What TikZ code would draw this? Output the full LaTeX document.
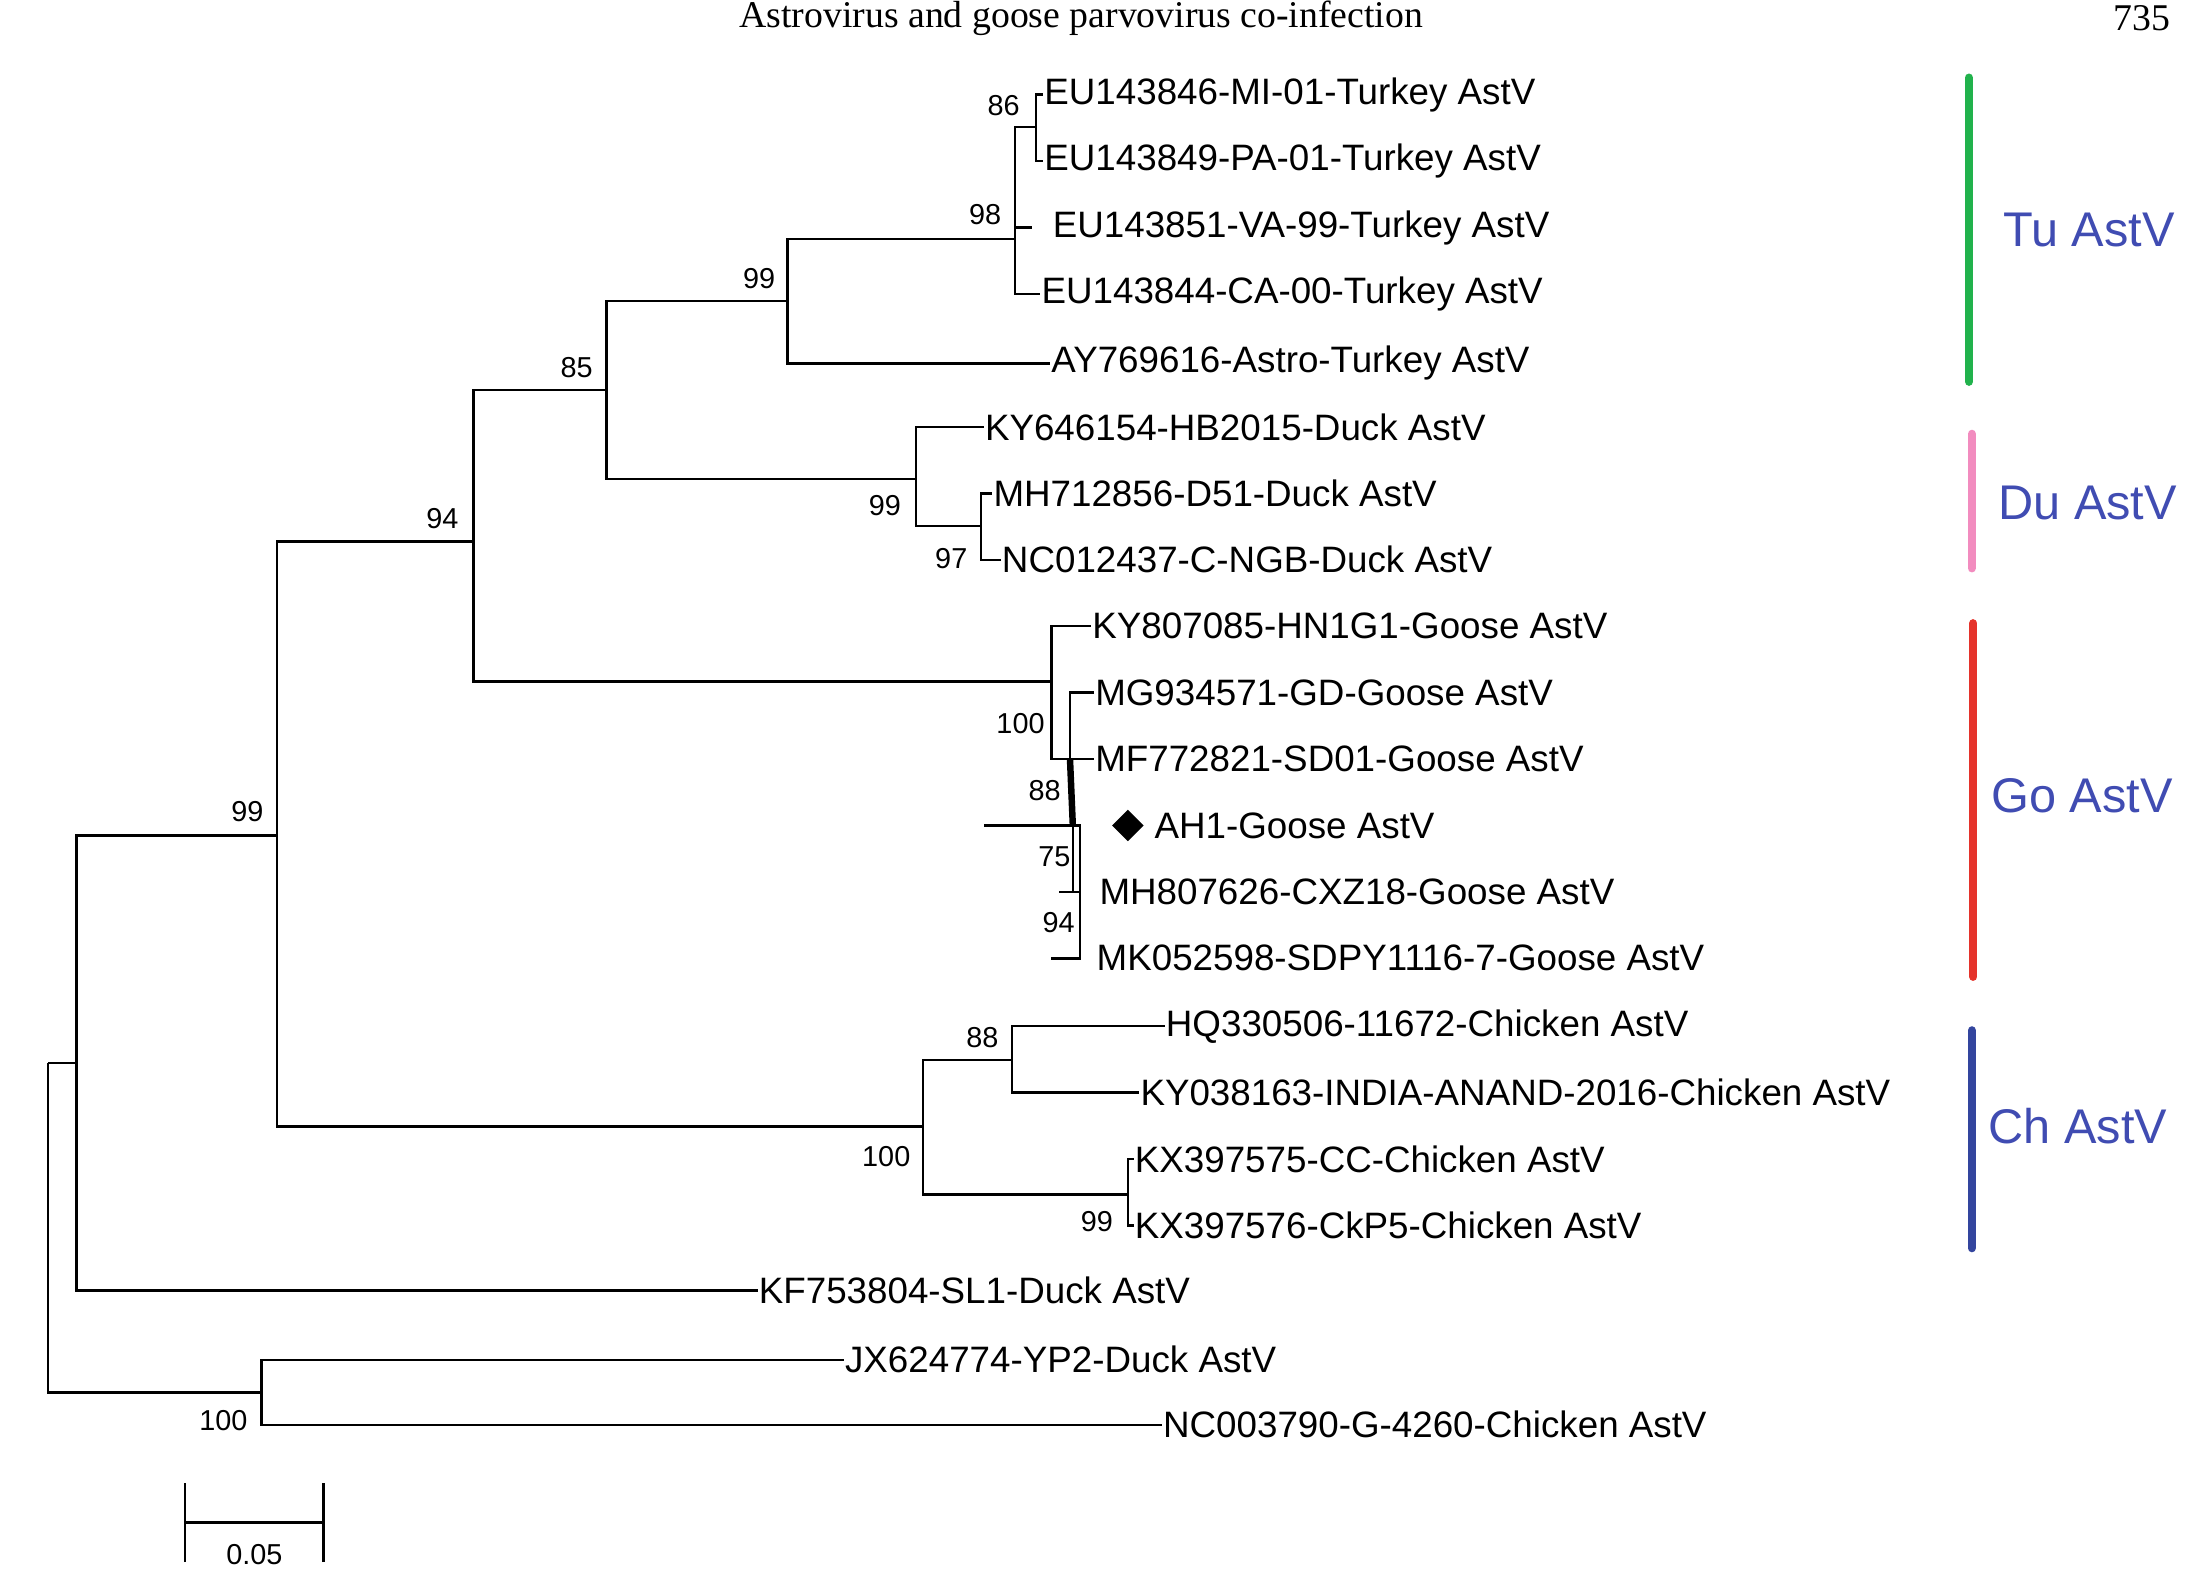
\documentclass[tikz,border=0pt]{standalone}
\usepackage{fontspec}
\setmainfont{Liberation Serif}
\setsansfont{Liberation Sans}
\usetikzlibrary{shapes.geometric}
\begin{document}
\begin{tikzpicture}[x=0.1mm,y=-0.1mm,line width=0.5pt]
  \definecolor{kGreen}{rgb}{0.13,0.70,0.30}
  \definecolor{kPink}{rgb}{0.95,0.55,0.75}
  \definecolor{kRed}{rgb}{0.90,0.20,0.17}
  \definecolor{kBlue}{rgb}{0.20,0.27,0.62}
  \definecolor{kLab}{rgb}{0.25,0.30,0.70}
  \tikzset{
    taxon/.style={anchor=west,inner sep=0pt,font=\sffamily\fontsize{7.4}{8}\selectfont},
    boot/.style={inner sep=0pt,font=\sffamily\fontsize{5.8}{6}\selectfont},
    clade/.style={line width=1.7pt,line cap=round},
    cladename/.style={text=kLab,font=\sffamily\fontsize{9.8}{10}\selectfont}
  }
  \useasboundingbox (0,0) rectangle (1560,1110);

  % header
  \node[font=\fontsize{7.6}{8}\selectfont] (head) at (765,13) {Astrovirus and goose parvovirus co-infection};
  \node[anchor=east,font=\fontsize{7.6}{8}\selectfont] (page) at (1548,13) {735};

  % internal nodes
  \foreach \n/\x/\y in {r/34/752, a99/54/752, b100/185/985, c99/196/591, d94/335/383,
                        e85/429/276, tu99/557/213, t98/718/169, t86/733/90,
                        du99/648/339, d97/694/372, go100/744/482, g88/757/537,
                        g75/759/584, g94/764/631, ch100/653/797, c88/716/750, c99b/798/845}
    \coordinate (\n) at (\x,\y);

  % leaves
  \foreach \n/\x/\y/\t in {
      MI/738/67/EU143846-MI-01-Turkey AstV,
      PA/738/114/EU143849-PA-01-Turkey AstV,
      VA/744/161/EU143851-VA-99-Turkey AstV,
      CA/736/208/EU143844-CA-00-Turkey AstV,
      AY/743/257/AY769616-Astro-Turkey AstV,
      HB/696/302/KY646154-HB2015-Duck AstV,
      DF/702/349/MH712856-D51-Duck AstV,
      NGB/708/396/NC012437-C-NGB-Duck AstV,
      HN/772/443/KY807085-HN1G1-Goose AstV,
      GD/774/490/MG934571-GD-Goose AstV,
      SD/774/537/MF772821-SD01-Goose AstV,
      AH/816/584/AH1-Goose AstV,
      CXZ/777/631/MH807626-CXZ18-Goose AstV,
      SDPY/775/678/MK052598-SDPY1116-7-Goose AstV,
      HQ/824/726/HQ330506-11672-Chicken AstV,
      IN/806/773/KY038163-INDIA-ANAND-2016-Chicken AstV,
      CC/802/820/KX397575-CC-Chicken AstV,
      CkP/802/867/KX397576-CkP5-Chicken AstV,
      SL/536/913/KF753804-SL1-Duck AstV,
      YP/597/962/JX624774-YP2-Duck AstV,
      G/822/1008/NC003790-G-4260-Chicken AstV}
    \node[taxon] (\n) at (\x,\y) {\t};

  \node[diamond,fill=black,inner sep=0pt,minimum size=2.3mm] (dia) at (798,584) {};

  % branches
  \draw (r) |- (a99);
  \draw (r) |- (b100);
  \draw (a99) |- (c99);
  \draw (a99) |- (SL.west);
  \draw (b100) |- (YP.west);
  \draw (b100) |- (G.west);
  \draw (c99) |- (d94);
  \draw (c99) |- (ch100);
  \draw (d94) |- (e85);
  \draw (d94) |- (go100);
  \draw (e85) |- (tu99);
  \draw (e85) |- (du99);
  \draw (tu99) |- (t98);
  \draw (tu99) |- (AY.west);
  \draw (t98) |- (t86);
  \draw (t98) |- ([xshift=-4]VA.west);
  \draw (t98) |- (CA.west);
  \draw (t86) |- (MI.west);
  \draw (t86) |- (PA.west);
  \draw (du99) |- (HB.west);
  \draw (du99) |- (d97);
  \draw (d97) |- (DF.west);
  \draw (d97) |- (NGB.west);
  \draw (go100) |- (HN.west);
  \draw (go100) |- (SD.west);
  \draw (g88) |- (GD.west);
  \draw[line width=1.3pt] (g88) -- (g75);
  \draw (g75) |- (g94);
  \draw (g94) |- ([xshift=-34]AH.west);
  \draw (g94) |- ([xshift=-8]CXZ.west);
  \draw (g94) |- ([xshift=-9]SDPY.west);
  \draw (ch100) |- (c88);
  \draw (ch100) |- (c99b);
  \draw (c88) |- (HQ.west);
  \draw (c88) |- (IN.west);
  \draw (c99b) |- (CC.west);
  \draw (c99b) |- (CkP.west);

  % bootstrap values
  \foreach \n/\x/\y/\v in {b1/710/75/86, b2/697/152/98, b3/537/197/99, b4/408/260/85,
                           b5/313/367/94, b6/175/574/99, b7/626/358/99, b8/673/395/97,
                           b9/722/512/100, b10/739/559/88, b11/746/606/75, b12/749/653/94,
                           b13/695/734/88, b14/627/818/100, b15/776/864/99, b16/158/1005/100}
    \node[boot] (\n) at (\x,\y) {\v};

  % clades
  \foreach \n/\c/\ya/\yb/\x/\lx/\ly/\t in {tu/kGreen/55/270/1393/1478/163/Tu AstV,
                                           du/kPink/307/402/1395/1477/356/Du AstV,
                                           go/kRed/441/691/1396/1473/563/Go AstV,
                                           ch/kBlue/729/883/1395/1470/797/Ch AstV}
  {
    \coordinate (\n top) at (\x,\ya);
    \coordinate (\n bot) at (\x,\yb);
    \draw[clade,\c] (\n top) -- (\n bot);
    \node[cladename] (\n lab) at (\lx,\ly) {\t};
  }

  % scale bar
  \coordinate (sa) at (131,1077);
  \coordinate (sb) at (229,1077);
  \draw (sa) -- (sb);
  \draw ([yshift=-8]sa) -- ([yshift=8]sa);
  \draw ([yshift=-8]sb) -- ([yshift=8]sb);
  \node[boot] (scale) at (180,1100) {0.05};
\end{tikzpicture}
\end{document}
